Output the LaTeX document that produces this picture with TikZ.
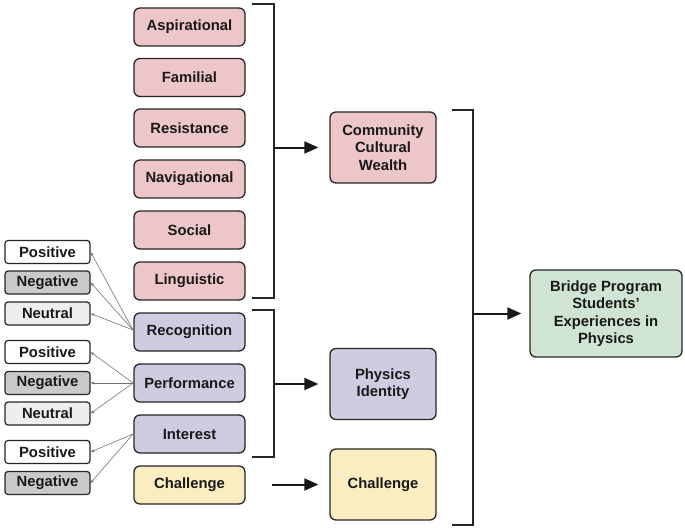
\documentclass[tikz,border=0pt]{standalone}
\usepackage{fontspec}
\setmainfont{Liberation Sans}
\usetikzlibrary{arrows.meta}
\definecolor{pinkc}{HTML}{EDC6C9}
\definecolor{purpc}{HTML}{CFCBE1}
\definecolor{yelc}{HTML}{FAEDC2}
\definecolor{grnc}{HTML}{CFE4D3}
\definecolor{negc}{HTML}{C9CACB}
\definecolor{neuc}{HTML}{EEEEEE}
\tikzset{
  box/.style={draw=black!85, line width=1.3pt, rounded corners=6pt, align=center,
    inner sep=0pt, font=\fontsize{14.8}{17.5}\selectfont\bfseries, text=black!90},
  lbox/.style={box, minimum width=111pt, minimum height=38pt},
  rbox/.style={box, minimum width=106pt, minimum height=71pt},
  sbox/.style={draw=black!85, line width=1.2pt, rounded corners=3pt, inner sep=0pt,
    minimum width=85pt, minimum height=23pt, font=\fontsize{14.8}{16}\selectfont\bfseries, text=black!90},
  brk/.style={line width=1.8pt, draw=black!85},
  bigarr/.style={line width=2pt, draw=black!90, -{Triangle[length=14pt,width=12pt]}},
  thin/.style={draw=black!55, line width=0.6pt, -{Stealth[length=4pt,width=3pt]}}
}
\begin{document}
\begin{tikzpicture}[x=1pt,y=-1pt]
\useasboundingbox (0,0) rectangle (685,532);
% left column
\node[lbox, fill=pinkc] (asp) at (189.5,27) {Aspirational};
\node[lbox, fill=pinkc] (fam) at (189.5,77.5) {Familial};
\node[lbox, fill=pinkc] (res) at (189.5,128) {Resistance};
\node[lbox, fill=pinkc] (nav) at (189.5,179) {Navigational};
\node[lbox, fill=pinkc] (soc) at (189.5,230) {Social};
\node[lbox, fill=pinkc] (lin) at (189.5,281) {Linguistic};
\node[lbox, fill=purpc] (rec) at (189.5,332) {Recognition};
\node[lbox, fill=purpc] (per) at (189.5,383) {Performance};
\node[lbox, fill=purpc] (int) at (189.5,434) {Interest};
\node[lbox, fill=yelc] (chl) at (189.5,485) {Challenge};
% small boxes
\node[sbox, fill=white] (p1) at (47.5,252) {Positive};
\node[sbox, fill=negc] (n1) at (47.5,282.5) {Negative};
\node[sbox, fill=neuc] (u1) at (47.5,313.5) {Neutral};
\node[sbox, fill=white] (p2) at (47.5,352) {Positive};
\node[sbox, fill=negc] (n2) at (47.5,383) {Negative};
\node[sbox, fill=neuc] (u2) at (47.5,413.5) {Neutral};
\node[sbox, fill=white] (p3) at (47.5,452) {Positive};
\node[sbox, fill=negc] (n3) at (47.5,483) {Negative};
% right column
\node[rbox, fill=pinkc] (ccw) at (383,147.5) {Community\\Cultural\\Wealth};
\node[rbox, fill=purpc] (pid) at (383,384) {Physics\\Identity};
\node[rbox, fill=yelc] (chr) at (383,484.5) {Challenge};
\node[box, fill=grnc, minimum width=152pt, minimum height=87pt] (brg) at (606,313.5)
  {Bridge Program\\Students'\\Experiences in\\Physics};
% thin connectors
\coordinate (recL) at (133,330);
\coordinate (perL) at (133,383);
\coordinate (intL) at (133,434);
\foreach \t in {p1,n1,u1} \draw[thin] (recL) -- (\t.east);
\foreach \t in {p2,n2,u2} \draw[thin] (perL) -- (\t.east);
\foreach \t in {p3,n3} \draw[thin] (intL) -- (\t.east);
% bracket 1
\coordinate (b1t) at (274,4);
\coordinate (b1b) at (274,298);
\coordinate (b1m) at (274,147.5);
\draw[brk] (252,4) -- (b1t) -- (b1b) -- (252,298);
\draw[bigarr] (b1m) -- ([xshift=-11pt]ccw.west);
% bracket 2
\coordinate (b2t) at (274,310);
\coordinate (b2b) at (274,457);
\coordinate (b2m) at (274,384);
\draw[brk] (252,310) -- (b2t) -- (b2b) -- (252,457);
\draw[bigarr] (b2m) -- ([xshift=-11pt]pid.west);
% challenge arrow
\coordinate (chs) at (272,484.5);
\draw[bigarr] (chs) -- ([xshift=-11pt]chr.west);
% big bracket
\coordinate (b3t) at (473,110);
\coordinate (b3b) at (473,525);
\coordinate (b3m) at (473,313.5);
\draw[brk] (452,110) -- (b3t) -- (b3b) -- (452,525);
\draw[bigarr] (b3m) -- ([xshift=-8pt]brg.west);
\end{tikzpicture}
\end{document}
